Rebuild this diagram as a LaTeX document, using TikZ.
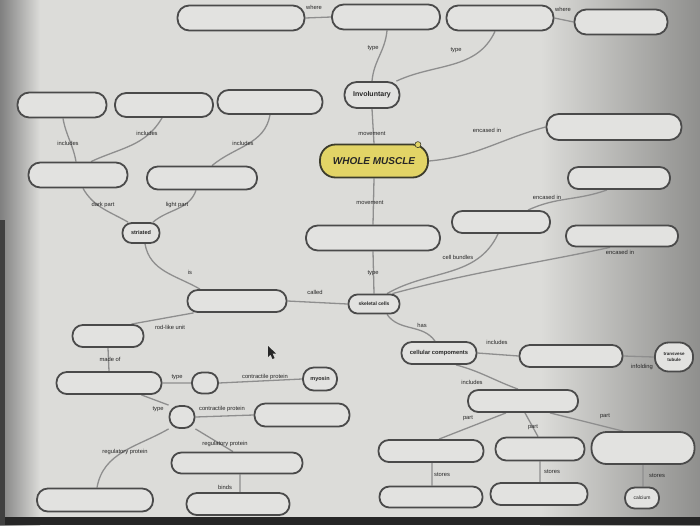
\documentclass[tikz,border=0pt]{standalone}
\usepackage{fontspec}
\setmainfont{Liberation Sans}
\definecolor{bgc}{HTML}{DCDCD9}
\definecolor{boxc}{HTML}{4A4A4A}
\definecolor{boxf}{HTML}{E2E2E0}
\definecolor{linec}{HTML}{8E8E8E}
\definecolor{txtc}{HTML}{262626}
\definecolor{wmf}{HTML}{E2D466}
\definecolor{wmb}{HTML}{3C3C2C}
\pgfdeclarelayer{bgl}
\pgfdeclarelayer{lines}
\pgfsetlayers{bgl,lines,main}
\begin{document}
\begin{tikzpicture}[x=1pt,y=-1pt,
  pill/.style n args={2}{draw=boxc, line width=1.8pt, fill=boxf, inner sep=0pt,
     text=txtc, align=center, minimum width=#1pt, minimum height=#2pt,
     rounded corners={#2*0.47pt}},
  conn/.style={draw=linec, line width=1.3pt},
  lab/.style={font=\fontsize{5.8}{6}\selectfont, text=txtc, inner sep=0pt}
]
\useasboundingbox (0,0) rectangle (700,525);
% background (photo of a screen)
\begin{pgfonlayer}{bgl}
\fill[bgc] (0,0) rectangle (700,525);
\shade[left color=black!50, right color=bgc] (0,0) rectangle (40,525);
\shade[left color=bgc, right color=black!35!bgc] (540,0) rectangle (700,525);
\fill[black!85] (0,517) rectangle (700,525);
\fill[black!75] (0,220) rectangle (5,525);
\end{pgfonlayer}

% ---------- nodes ----------
\node[pill={127}{25}] (T1) at (241,18) {};
\node[pill={108}{25}] (T2) at (386,17) {};
\node[pill={107}{25}] (T3) at (500,18) {};
\node[pill={93}{25}]  (T4) at (621,22) {};

\node[pill={55}{26}, font=\fontsize{7}{7}\selectfont\bfseries] (Inv) at (372,95) {Involuntary};
\node[pill={108}{33}, fill=wmf, draw=wmb, font=\fontsize{10}{10}\selectfont\bfseries\itshape] (WM) at (374,161) {WHOLE MUSCLE};
\fill[wmf, draw=wmb, line width=0.6pt] (WM.north east) ++(-11,1) circle (3);

\node[pill={135}{26}] (R1) at (614,127) {};
\node[pill={102}{22}] (R2) at (619,178) {};
\node[pill={98}{22}]  (M1) at (501,222) {};
\node[pill={112}{21}] (R3) at (622,236) {};
\node[pill={134}{25}] (C1) at (373,238) {};
\node[pill={51}{19}, font=\fontsize{5}{5}\selectfont\bfseries] (skel) at (374,304) {skeletal cells};

\node[pill={89}{25}]  (A1) at (62,105) {};
\node[pill={98}{24}]  (A2) at (164,105) {};
\node[pill={105}{24}] (A3) at (270,102) {};
\node[pill={99}{25}]  (B1) at (78,175) {};
\node[pill={110}{23}] (B2) at (202,178) {};
\node[pill={37}{20}, font=\fontsize{5.5}{5.5}\selectfont\bfseries] (str) at (141,233) {striated};
\node[pill={99}{22}]  (L1) at (237,301) {};

\node[pill={71}{22}]  (D1) at (108,336) {};
\node[pill={105}{22}] (D2) at (109,383) {};
\node[pill={26}{21}]  (E1) at (205,383) {};
\node[pill={34}{23}, font=\fontsize{5.5}{5.5}\selectfont\bfseries] (myo) at (320,379) {myosin};
\node[pill={25}{22}]  (E2) at (182,417) {};
\node[pill={95}{23}]  (F1) at (302,415) {};
\node[pill={116}{23}] (G1) at (95,500) {};
\node[pill={131}{21}] (G2) at (237,463) {};
\node[pill={103}{22}] (G3) at (238,504) {};

\node[pill={75}{22}, font=\fontsize{5.8}{5.8}\selectfont\bfseries] (cc) at (439,353) {cellular compoments};
\node[pill={103}{22}] (H1) at (571,356) {};
\node[pill={38}{29}, font=\fontsize{4.5}{5.5}\selectfont\bfseries] (tt) at (674,357) {transvese\\tubule};
\node[pill={110}{22}] (J1) at (523,401) {};
\node[pill={105}{22}] (K1) at (431,451) {};
\node[pill={89}{23}]  (K2) at (540,449) {};
\node[pill={103}{32}] (K3) at (643,448) {};
\node[pill={103}{21}] (N1) at (431,497) {};
\node[pill={97}{22}]  (N2) at (539,494) {};
\node[pill={34}{21}, font=\fontsize{5}{5}\selectfont] (cal) at (642,498) {calcium};

% ---------- connectors (behind boxes) ----------
\begin{pgfonlayer}{lines}
\path[conn]
  (T1.east) -- (T2.west)
  (T3.east) -- (T4.west)
  ([xshift=1pt]T2.south) to[out=-95,in=85] (Inv.north)
  ([xshift=-5pt]T3.south) to[out=-115,in=25] ([xshift=-4pt]Inv.north east)
  (Inv.south) -- (WM.north)
  (WM.east) to[out=5,in=195] (R1.west)
  (WM.south) -- (C1.north)
  (C1.south) -- (skel.north)
  ([xshift=-12pt]R2.south) to[out=200,in=25] ([xshift=27pt]M1.north)
  ([xshift=-3pt]M1.south) to[out=-115,in=30] ([xshift=13pt]skel.north)
  ([xshift=-8pt]skel.north east) to[out=15,in=192] ([xshift=-12pt]R3.south)
  (skel.west) -- (L1.east)
  ([xshift=4pt]str.south) to[out=-80,in=150] ([xshift=-37pt]L1.north)
  ([xshift=5pt]B1.south) to[out=-60,in=150] ([xshift=-13pt]str.north)
  ([xshift=-6pt]B2.south) to[out=-110,in=40] ([xshift=12pt]str.north)
  ([xshift=1pt]A1.south) to[out=-80,in=100] ([xshift=-2pt]B1.north)
  ([xshift=-2pt]A2.south) to[out=-120,in=25] ([xshift=13pt]B1.north)
  (A3.south) to[out=-100,in=40] ([xshift=10pt]B2.north)
  ([xshift=7pt]L1.south west) -- ([xshift=-13pt]D1.north east)
  (D1.south) -- (D2.north)
  (D2.east) -- (E1.west)
  (E1.east) -- (myo.west)
  ([xshift=-21pt]D2.south east) -- (E2.north west)
  (E2.east) -- (F1.west)
  (E2.south west) to[out=-150,in=80] ([xshift=2pt]G1.north)
  (E2.south east) -- ([xshift=-4pt]G2.north)
  ([xshift=3pt]G2.south) -- ([xshift=2pt]G3.north)
  ([xshift=13pt]skel.south) to[out=-55,in=125] ([xshift=-4pt]cc.north)
  (cc.east) -- (H1.west)
  (H1.east) -- (tt.west)
  ([xshift=17pt]cc.south) to[out=-15,in=160] ([xshift=-5pt]J1.north)
  ([xshift=-17pt]J1.south) -- ([xshift=8pt]K1.north)
  ([xshift=2pt]J1.south) -- ([xshift=-2pt]K2.north)
  ([xshift=27pt]J1.south) -- ([xshift=-20pt]K3.north)
  ([xshift=1pt]K1.south) -- ([xshift=1pt]N1.north)
  (K2.south) -- ([xshift=1pt]N2.north)
  (K3.south) -- ([xshift=1pt]cal.north);
\end{pgfonlayer}

% ---------- labels ----------
\node[lab] (l1) at (314,7) {where};
\node[lab] (l2) at (563,9) {where};
\node[lab] (l3) at (373,48) {type};
\node[lab] (l4) at (456,50) {type};
\node[lab] (l5) at (372,134) {movement};
\node[lab] (l6) at (487,130) {encased in};
\node[lab] (l7) at (547,197) {encased in};
\node[lab] (l8) at (620,252) {encased in};
\node[lab] (l9) at (458,257) {cell bundles};
\node[lab] (l10) at (370,203) {movement};
\node[lab] (l11) at (373,273) {type};
\node[lab] (l12) at (315,292) {called};
\node[lab] (l13) at (68,143) {includes};
\node[lab] (l14) at (147,133) {includes};
\node[lab] (l15) at (243,143) {includes};
\node[lab] (l16) at (103,205) {dark part};
\node[lab] (l17) at (177,205) {light part};
\node[lab] (l18) at (190,272) {is};
\node[lab] (l19) at (170,327) {rod-like unit};
\node[lab] (l20) at (110,359) {made of};
\node[lab] (l21) at (177,377) {type};
\node[lab] (l22) at (265,377) {contractile protein};
\node[lab] (l23) at (158,409) {type};
\node[lab] (l24) at (222,409) {contractile protein};
\node[lab] (l25) at (125,452) {regulatory protein};
\node[lab] (l26) at (225,444) {regulatory protein};
\node[lab] (l27) at (225,487) {binds};
\node[lab] (l28) at (422,325) {has};
\node[lab] (l29) at (497,342) {includes};
\node[lab] (l30) at (642,367) {infolding};
\node[lab] (l31) at (472,382) {includes};
\node[lab] (l32) at (468,418) {part};
\node[lab] (l33) at (533,427) {part};
\node[lab] (l34) at (605,416) {part};
\node[lab] (l35) at (442,475) {stores};
\node[lab] (l36) at (552,472) {stores};
\node[lab] (l37) at (657,476) {stores};

% mouse pointer
\fill[black!85] (268,346) -- (268,357) -- (270.5,354.5) -- (272.5,359) -- (274.5,358) -- (272.5,353.5) -- (276,353.5) -- cycle;
\end{tikzpicture}
\end{document}
